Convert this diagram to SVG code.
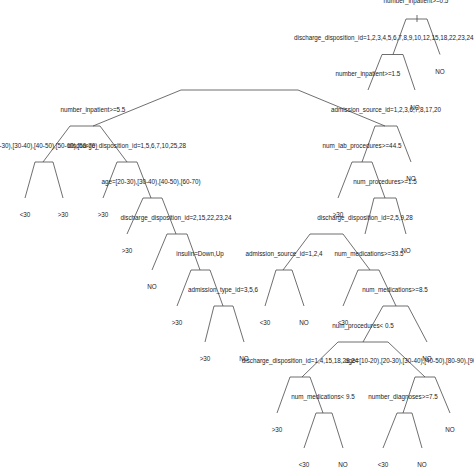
<svg xmlns="http://www.w3.org/2000/svg" width="474" height="474" viewBox="0 0 474 474">
<style>
.e{fill:none;stroke:#4a4a4a;stroke-width:0.8}
text{font-family:"Liberation Sans",Arial,sans-serif;font-size:6.3px;fill:#222;text-anchor:middle}
.s{text-anchor:start}
</style>
<rect width="474" height="474" fill="#fff"/>
<g id="connectors">
<polyline class="e" points="393,54.5 406,19 427,19 440,54.5"/>
<line class="e" x1="417" y1="15" x2="417" y2="22"/>
<polyline class="e" points="368,90 382,54.5 403,54.5 415,90"/>
<polyline class="e" points="93,126 181,90 298,90 385,126"/>
<polyline class="e" points="43,162 70,126 100,126 127,162"/>
<polyline class="e" points="25,198 35,162 53,162 63,198"/>
<polyline class="e" points="103,198 117,162 137,162 151,198"/>
<polyline class="e" points="127,234 143,198 162,198 176,234"/>
<polyline class="e" points="152,270 167,234 187,234 200,270"/>
<polyline class="e" points="177,306 191,270 210,270 223,306"/>
<polyline class="e" points="205,342 214,306 233,306 244,342"/>
<polyline class="e" points="362,162 375,126 397,126 411,162"/>
<polyline class="e" points="338,198 352,162 372,162 385,198"/>
<polyline class="e" points="365,234 374,198 396,198 406,234"/>
<polyline class="e" points="283,270 310,234 343,234 370,270"/>
<polyline class="e" points="265,306 276,270 292,270 304,306"/>
<polyline class="e" points="343,306 358,270 379,270 396,306"/>
<polyline class="e" points="363,342 383,306 408,306 427,342"/>
<polyline class="e" points="302,377 338,342 388,342 425,377"/>
<polyline class="e" points="277,413 290,377 310,377 323,413"/>
<polyline class="e" points="403,413 415,377 435,377 450,413"/>
<polyline class="e" points="304,448 316,413 332,413 343,448"/>
<polyline class="e" points="383,448 397,413 412,413 422,448"/>
</g>
<g id="n_root"><text x="416" y="3.2">number_inpatient&gt;=0.5</text></g>
<g id="n_A"><text class="s" x="294" y="40.3">discharge_disposition_id=1,2,3,4,5,6,7,8,9,10,12,15,18,22,23,24,25,28</text></g>
<g id="n_B"><text x="368" y="75.8">number_inpatient&gt;=1.5</text></g>
<g id="n_C"><text x="93" y="111.8">number_inpatient&gt;=5.5</text></g>
<g id="n_D"><text x="386" y="111.8">admission_source_id=1,2,3,6,7,8,17,20</text></g>
<g id="n_E"><text x="37" y="147.8">age=[20-30),[30-40),[40-50),[50-60),[60-70)</text></g>
<g id="n_F"><text x="127" y="147.8">discharge_disposition_id=1,5,6,7,10,25,28</text></g>
<g id="n_G"><text x="362" y="147.8">num_lab_procedures&gt;=44.5</text></g>
<g id="n_H"><text x="151" y="183.8">age=[20-30),[30-40),[40-50),[60-70)</text></g>
<g id="n_L"><text x="385" y="183.8">num_procedures&gt;=1.5</text></g>
<g id="n_I"><text x="176" y="219.8">discharge_disposition_id=2,15,22,23,24</text></g>
<g id="n_M"><text x="365" y="219.8">discharge_disposition_id=2,5,9,28</text></g>
<g id="n_J"><text x="200" y="255.8">insulin=Down,Up</text></g>
<g id="n_N"><text x="284" y="255.8">admission_source_id=1,2,4</text></g>
<g id="n_O"><text x="369" y="255.8">num_medications&gt;=33.5</text></g>
<g id="n_K"><text x="223" y="291.8">admission_type_id=3,5,6</text></g>
<g id="n_P"><text x="395" y="291.8">num_medications&gt;=8.5</text></g>
<g id="n_Q"><text x="363" y="327.8">num_procedures&lt; 0.5</text></g>
<g id="n_R"><text x="300" y="362.8">discharge_disposition_id=1,4,15,18,23,24</text></g>
<g id="n_S"><text class="s" x="345" y="362.8">age=[10-20),[20-30),[30-40),[40-50),[80-90),[90-100)</text></g>
<g id="n_T"><text x="323" y="398.8">num_medications&lt; 9.5</text></g>
<g id="n_U"><text x="403" y="398.8">number_diagnoses&gt;=7.5</text></g>
<g id="leaf1"><text x="440" y="73.8">NO</text></g>
<g id="leaf2"><text x="415" y="109.8">NO</text></g>
<g id="leaf3"><text x="25" y="217.3">&lt;30</text></g>
<g id="leaf4"><text x="63" y="217.3">&gt;30</text></g>
<g id="leaf5"><text x="103" y="217.3">&gt;30</text></g>
<g id="leaf6"><text x="338" y="217.3">&gt;30</text></g>
<g id="leaf7"><text x="411" y="181.3">NO</text></g>
<g id="leaf8"><text x="127" y="253.3">&gt;30</text></g>
<g id="leaf9"><text x="406" y="253.3">NO</text></g>
<g id="leaf10"><text x="152" y="289.3">NO</text></g>
<g id="leaf11"><text x="177" y="325.3">&gt;30</text></g>
<g id="leaf12"><text x="265" y="325.3">&lt;30</text></g>
<g id="leaf13"><text x="304" y="325.3">NO</text></g>
<g id="leaf14"><text x="343" y="325.3">&lt;30</text></g>
<g id="leaf15"><text x="205" y="361.3">&gt;30</text></g>
<g id="leaf16"><text x="244" y="361.3">NO</text></g>
<g id="leaf17"><text x="427" y="361.3">NO</text></g>
<g id="leaf18"><text x="277" y="432.3">&gt;30</text></g>
<g id="leaf19"><text x="450" y="432.3">NO</text></g>
<g id="leaf20"><text x="304" y="467.3">&lt;30</text></g>
<g id="leaf21"><text x="343" y="467.3">NO</text></g>
<g id="leaf22"><text x="383" y="467.3">&lt;30</text></g>
<g id="leaf23"><text x="422" y="467.3">NO</text></g>
</svg>
